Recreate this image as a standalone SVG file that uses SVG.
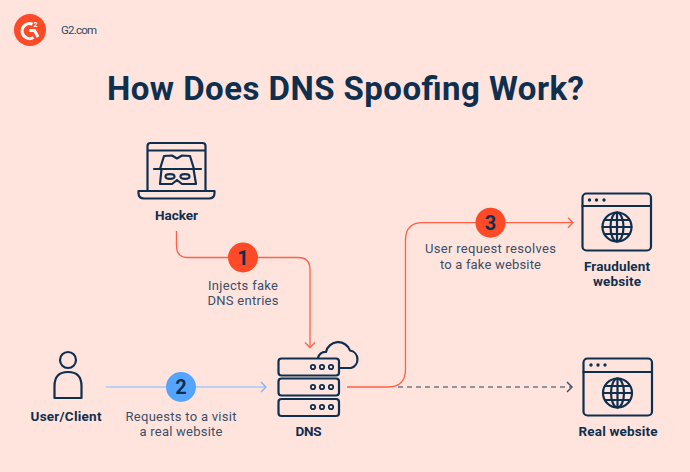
<svg xmlns="http://www.w3.org/2000/svg" width="690" height="472" viewBox="0 0 690 472">
<defs>
<style>
text{font-family:Roboto,"Liberation Sans",sans-serif;text-anchor:middle}
.t{font-size:13.500px;font-weight:700;fill:#0f2f4f}
.d{font-size:13px;font-weight:400;fill:#3a4f68}
.n{font-size:20px;font-weight:700;fill:#0f2f4f}
.i{fill:none;stroke:#0f2f4f;stroke-width:2.200;stroke-linejoin:round;stroke-linecap:round}
.dot{fill:#0f2f4f}
.c{fill:none;stroke-width:1.300}
.red{stroke:#ff5f45}
.blue{stroke:#a6c8fb;stroke-width:1.600}
.gray{stroke:#6d7a8b;stroke-width:1.700;stroke-dasharray:5 4}
</style>
<marker id="ar" viewBox="0 0 10 12" refX="9" refY="6" markerWidth="10" markerHeight="12" markerUnits="userSpaceOnUse" orient="auto"><path d="M4 1L9 6L4 11" fill="none" stroke="#ff5f45" stroke-width="1.300"/></marker>
<marker id="ab" viewBox="0 0 10 12" refX="9" refY="6" markerWidth="10" markerHeight="12" markerUnits="userSpaceOnUse" orient="auto"><path d="M4 1L9 6L4 11" fill="none" stroke="#7fb0f8" stroke-width="1.300"/></marker>
<marker id="ag" viewBox="0 0 10 12" refX="9" refY="6" markerWidth="10" markerHeight="12" markerUnits="userSpaceOnUse" orient="auto"><path d="M4 1L9 6L4 11" fill="none" stroke="#3f5168" stroke-width="1.500"/></marker>
<g id="globe"><circle r="14.500" class="i"/><ellipse rx="6.500" ry="14.500" class="i"/><path d="M0-14.500V14.500M-14.500 0H14.500M-12.500-7H12.500M-12.500 7H12.500" class="i"/></g>
</defs>
<rect width="690" height="472" fill="#ffe4de"/>
<g id="logo">
<circle cx="30" cy="30" r="16" fill="#ff4a28"/>
<path d="M32.500 24.200A7.500 7.500 0 1 0 33.500 37.500" fill="none" stroke="#fff" stroke-width="3"/>
<path d="M29 30.500H34.500L38 37" fill="none" stroke="#fff" stroke-width="3"/>
<text x="35.500" y="27" font-size="7" font-weight="700" fill="#fff">2</text>
<text x="79" y="34" font-size="11.500" fill="#33475f" textLength="36">G2.com</text>
</g>
<text id="title" x="345.500" y="100" font-size="33" font-weight="700" fill="#0f2f4f" textLength="477" lengthAdjust="spacing">How Does DNS Spoofing Work?</text>
<g id="connectors">
<path class="c red" d="M176.500 231V246Q176.500 257.500 188 257.500H298Q310 257.500 310 269.500V347.500" marker-end="url(#ar)"/>
<path class="c blue" d="M106 387H266" marker-end="url(#ab)"/>
<path class="c gray" d="M398 387H572" marker-end="url(#ag)"/>
<path class="c red" d="M347 387H388Q405.500 387 405.500 369V240Q405.500 222.700 423 222.700H573" marker-end="url(#ar)"/>
</g>
<g id="step1"><circle cx="243" cy="257.500" r="15" fill="#ff4a28"/><text class="n" x="243" y="264.500">1</text><text class="d" x="243" y="290" textLength="70">Injects fake</text><text class="d" x="243" y="305" textLength="71">DNS entries</text></g>
<g id="step2"><circle cx="181" cy="387" r="15" fill="#55a5ff"/><text class="n" x="181" y="394">2</text><text class="d" x="181" y="421" textLength="111">Requests to a visit</text><text class="d" x="181" y="436" textLength="83">a real website</text></g>
<g id="step3"><circle cx="490.500" cy="222.700" r="15" fill="#ff4a28"/><text class="n" x="490.500" y="229.500">3</text><text class="d" x="490.500" y="253" textLength="131">User request resolves</text><text class="d" x="490.500" y="268.500" textLength="101">to a fake website</text></g>
<g id="hacker">
<path class="i" d="M147.500 191V146Q147.500 143 150.500 143H202.500Q205.500 143 205.500 146V191M147.500 150.500H205.500"/>
<path class="i" d="M138.500 191H214.500V193Q214.500 198.500 209 198.500H144Q138.500 198.500 138.500 193Z"/>
<path class="i" d="M154 169H201M160 169L164 156L172 155.500L177 158.500L182 155.500L190 156L194 169"/>
<path class="i" d="M161.500 169L160 184H172L177 180L182 184H196L193.500 169"/>
<ellipse class="i" cx="170" cy="176.500" rx="4.500" ry="2.300"/><ellipse class="i" cx="185" cy="176.500" rx="4.500" ry="2.300"/>
<text class="t" x="176.500" y="220" textLength="43">Hacker</text>
</g>
<g id="user">
<circle class="i" cx="68" cy="360" r="8"/>
<path class="i" d="M54.500 398V386Q54.500 372 68 372Q81.500 372 81.500 386V398Z"/>
<text class="t" x="66" y="421" textLength="71">User/Client</text>
</g>
<g id="dns">
<path class="i" d="M318 358A7.500 7.500 0 0 1 326 352A12.500 12.500 0 0 1 350 350.500A9 9 0 0 1 351 368H339"/>
<rect class="i" x="278.500" y="358.500" width="60.500" height="17" rx="3"/>
<rect class="i" x="278.500" y="378.500" width="60.500" height="17" rx="3"/>
<rect class="i" x="278.500" y="399" width="60.500" height="17" rx="3"/>
<g fill="none" stroke="#0f2f4f" stroke-width="1.800">
<circle cx="313" cy="367" r="2.200"/><circle cx="322" cy="367" r="2.200"/><circle cx="331" cy="367" r="2.200"/>
<circle cx="313" cy="387" r="2.200"/><circle cx="322" cy="387" r="2.200"/><circle cx="331" cy="387" r="2.200"/>
<circle cx="313" cy="407" r="2.200"/><circle cx="322" cy="407" r="2.200"/><circle cx="331" cy="407" r="2.200"/>
</g>
<text class="t" x="308.500" y="436" textLength="26">DNS</text>
</g>
<g id="fraudulent">
<rect class="i" x="582.500" y="193.500" width="68.500" height="57" rx="4"/>
<path class="i" d="M582.500 206H651"/>
<circle class="dot" cx="589.500" cy="200" r="1.700"/><circle class="dot" cx="596.500" cy="200" r="1.700"/><circle class="dot" cx="604" cy="200" r="1.700"/>
<use href="#globe" x="617" y="227"/>
<text class="t" x="617" y="271" textLength="66">Fraudulent</text>
<text class="t" x="617" y="286" textLength="48">website</text>
</g>
<g id="real">
<rect class="i" x="583.500" y="358.500" width="68.500" height="57" rx="4"/>
<path class="i" d="M583.500 372H652"/>
<circle class="dot" cx="591" cy="365" r="1.700"/><circle class="dot" cx="598" cy="365" r="1.700"/><circle class="dot" cx="605" cy="365" r="1.700"/>
<use href="#globe" x="617.500" y="393"/>
<text class="t" x="618" y="436" textLength="79">Real website</text>
</g>
</svg>
